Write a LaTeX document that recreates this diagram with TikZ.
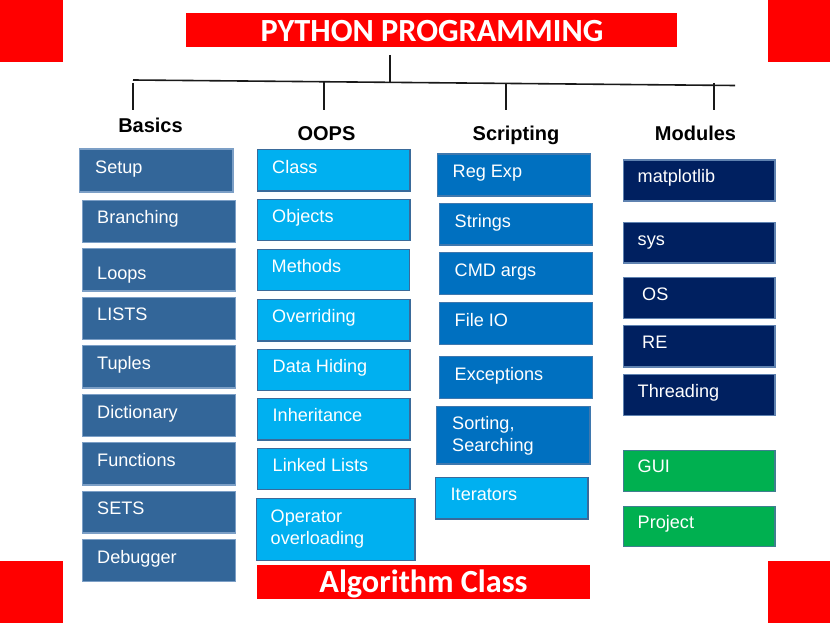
\documentclass[tikz,border=0pt]{standalone}
\usepackage{fontspec}
\setmainfont{Liberation Sans}
\newfontfamily\carlito{Carlito}
\definecolor{basicsfill}{HTML}{336699}
\definecolor{basicsedge}{HTML}{7C9FC6}
\definecolor{oopsfill}{HTML}{00B0F0}
\definecolor{oopsedge}{HTML}{3A6A9A}
\definecolor{scriptfill}{HTML}{0070C0}
\definecolor{scriptedge}{HTML}{3F78AE}
\definecolor{modfill}{HTML}{002060}
\definecolor{modedge}{HTML}{5F82B0}
\definecolor{guifill}{HTML}{00B050}
\definecolor{guiedge}{HTML}{3F7F8F}
\definecolor{bannerred}{HTML}{FF0000}
\tikzset{
  x=1pt,y=-1pt,
  boxbase/.style={rectangle,inner sep=0pt,outer sep=0pt,anchor=north west,line width=1.4pt},
  basicsbox/.style={boxbase,fill=basicsfill,draw=basicsedge},
  oopsbox/.style={boxbase,fill=oopsfill,draw=oopsedge},
  scriptbox/.style={boxbase,fill=scriptfill,draw=scriptedge},
  modbox/.style={boxbase,fill=modfill,draw=modedge},
  guibox/.style={boxbase,fill=guifill,draw=guiedge},
  boxtext/.style={anchor=base west,inner sep=0pt,text=white,font=\fontsize{18.1}{22}\selectfont,align=left},
  coltitle/.style={anchor=base,inner sep=0pt,text=black,font=\fontsize{20}{24}\selectfont\bfseries},
  banner/.style={rectangle,inner sep=0pt,outer sep=0pt,anchor=north west,fill=bannerred},
  bannertext/.style={anchor=base,inner sep=0pt,text=white,font=\fontsize{32.3}{32}\selectfont\carlito\bfseries},
  corner/.style={rectangle,inner sep=0pt,outer sep=0pt,anchor=north west,fill=bannerred,minimum width=62.5pt,minimum height=62pt},
  linkline/.style={draw=black!90,line width=1.6pt},
}
% name, style, x0, y0, x1, y1, text x, baseline y, text
\newcommand{\pybox}[9]{%
  \pgfmathsetmacro{\bw}{#5-#3-1.4}\pgfmathsetmacro{\bh}{#6-#4-1.4}%
  \pgfmathsetmacro{\bx}{#3+0.7}\pgfmathsetmacro{\by}{#4+0.7}%
  \node[#2,minimum width=\bw pt,minimum height=\bh pt] (#1) at (\bx,\by) {};%
  \node[boxtext] (#1text) at (#7,#8) {#9};%
}
\begin{document}
\begin{tikzpicture}
\useasboundingbox (0,0) rectangle (830,623);
% corners
\node[corner] (cornerNW) at (0,0) {};
\node[corner] (cornerNE) at (767.5,0) {};
\node[corner] (cornerSW) at (0,561) {};
\node[corner] (cornerSE) at (767.5,561) {};
% banners
\node[banner,minimum width=491pt,minimum height=34pt] (topbanner) at (186,13) {};
\node[bannertext] (toptext) at (432,42) {PYTHON PROGRAMMING};
\node[banner,minimum width=333pt,minimum height=34pt] (botbanner) at (257,564.5) {};
\node[bannertext] (bottext) at (423.5,592.5) {Algorithm Class};
% connectors
\coordinate (stemTop) at (390,55);
\coordinate (stemBot) at (390,82);
\coordinate (busL) at (133,80);
\coordinate (busR) at (735,85.5);
\coordinate (dropAt) at (133,83);
\coordinate (dropAb) at (133,110);
\coordinate (dropBt) at (324,82);
\coordinate (dropBb) at (324,110);
\coordinate (dropCt) at (506,84);
\coordinate (dropCb) at (506,110);
\coordinate (dropDt) at (714,83);
\coordinate (dropDb) at (714,110);
\draw[linkline] (busL) -- (busR);
\draw[linkline] (stemTop) -- (stemBot);
\draw[linkline] (dropAt) -- (dropAb);
\draw[linkline] (dropBt) -- (dropBb);
\draw[linkline] (dropCt) -- (dropCb);
\draw[linkline] (dropDt) -- (dropDb);
% titles
\node[coltitle] (tBasics) at (150.5,132) {Basics};
\node[coltitle] (tOops) at (326.5,140.5) {OOPS};
\node[coltitle] (tScript) at (516,140.5) {Scripting};
\node[coltitle] (tMod) at (695.5,140.5) {Modules};
% Basics
\pybox{b1}{basicsbox}{79}{148.5}{233.5}{192.5}{95}{173}{Setup}
\pybox{b2}{basicsbox}{82}{199.5}{236}{243}{97}{223.5}{Branching}
\pybox{b3}{basicsbox}{82}{248}{236}{291.5}{97}{279}{Loops}
\pybox{b4}{basicsbox}{82}{296.5}{236}{340}{97}{320.5}{LISTS}
\pybox{b5}{basicsbox}{82}{345}{236}{388.5}{97}{369.5}{Tuples}
\pybox{b6}{basicsbox}{82}{393.5}{236}{437}{97}{418}{Dictionary}
\pybox{b7}{basicsbox}{82}{442}{236}{485.5}{97}{466.5}{Functions}
\pybox{b8}{basicsbox}{82}{490.5}{236}{533.5}{97}{514.5}{SETS}
\pybox{b9}{basicsbox}{82}{539}{236}{582}{97}{563}{Debugger}
% OOPS
\pybox{o1}{oopsbox}{257}{149}{410.5}{191.5}{272}{173}{Class}
\pybox{o2}{oopsbox}{257}{198.5}{410.5}{241}{272}{222.5}{Objects}
\pybox{o3}{oopsbox}{256.5}{248.5}{410}{291}{271.5}{272.5}{Methods}
\pybox{o4}{oopsbox}{257}{298.5}{410.5}{341.5}{272}{322}{Overriding}
\pybox{o5}{oopsbox}{257}{348.5}{410.5}{391}{272.5}{372.5}{Data Hiding}
\pybox{o6}{oopsbox}{257}{398}{410.5}{440.5}{272.5}{421.5}{Inheritance}
\pybox{o7}{oopsbox}{257}{447.5}{410.5}{490}{272.5}{471.5}{Linked Lists}
\pybox{o8}{oopsbox}{255.5}{498}{415.5}{561}{270.5}{544}{Operator\\overloading}
% Scripting
\pybox{s1}{scriptbox}{437}{153.5}{591}{196.5}{452.5}{178}{Reg Exp}
\pybox{s2}{scriptbox}{439}{202.5}{593}{245.5}{454.5}{227}{Strings}
\pybox{s3}{scriptbox}{439}{252}{593}{295}{454.5}{276}{CMD args}
\pybox{s4}{scriptbox}{439}{302}{593}{345}{454.5}{326}{File IO}
\pybox{s5}{scriptbox}{439}{356}{593}{399}{454.5}{380}{Exceptions}
\pybox{s6}{scriptbox}{436}{406}{590.5}{464.5}{452}{451.5}{Sorting,\\Searching}
\pybox{s7}{oopsbox}{435}{477}{588.5}{519.5}{450.5}{500.5}{Iterators}
% Modules
\pybox{m1}{modbox}{622.5}{159.5}{775.5}{201.5}{637.5}{182.5}{matplotlib}
\pybox{m2}{modbox}{622.5}{221.5}{775.5}{263.5}{637.5}{245}{sys}
\pybox{m3}{modbox}{622.5}{277}{775.5}{319}{642}{300.5}{OS}
\pybox{m4}{modbox}{622.5}{325}{775.5}{367.5}{642}{348.5}{RE}
\pybox{m5}{modbox}{622.5}{374}{775.5}{416}{637.5}{397.5}{Threading}
\pybox{m6}{guibox}{622.5}{450}{775.5}{492}{637.5}{472.5}{GUI}
\pybox{m7}{guibox}{622.5}{505.5}{775.5}{547}{637.5}{528}{Project}
\end{tikzpicture}
\end{document}
